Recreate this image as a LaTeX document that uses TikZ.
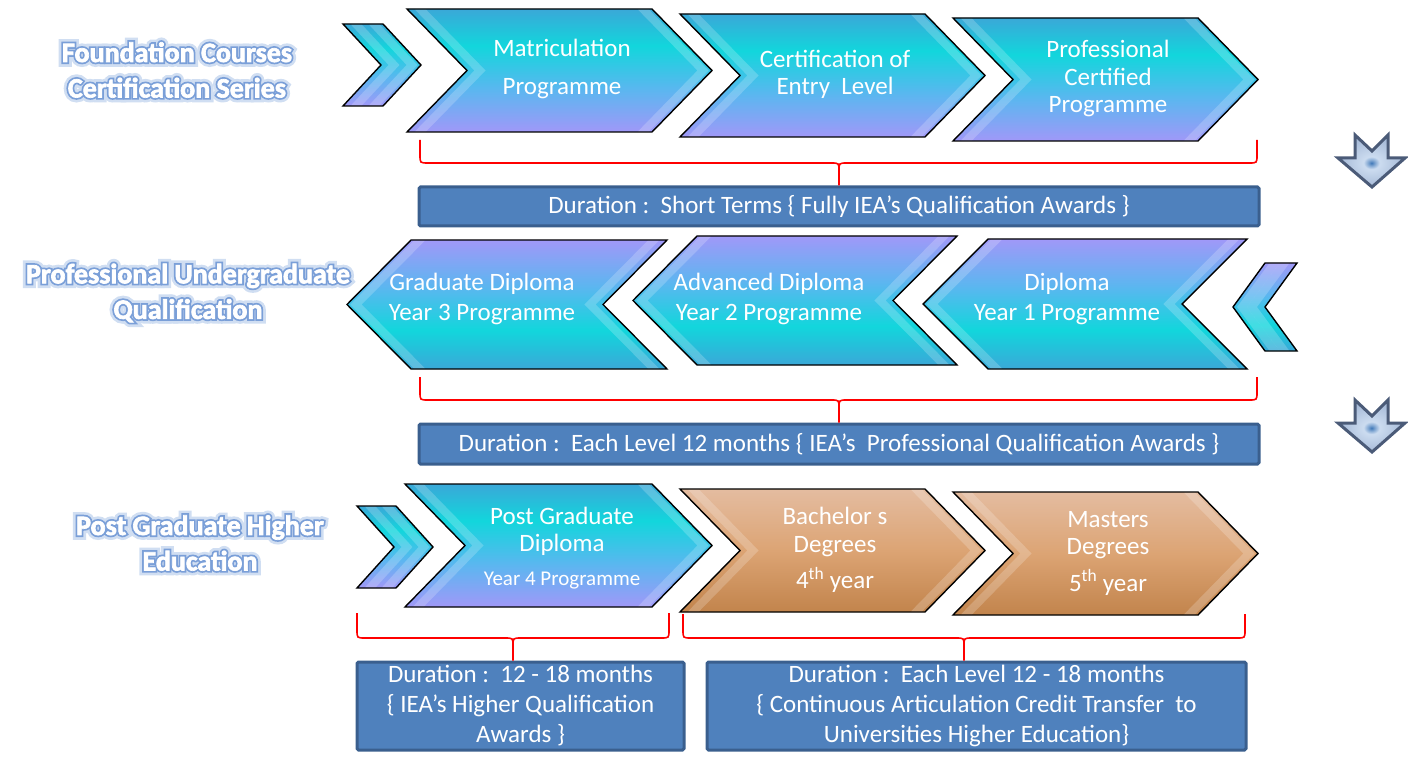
\documentclass[tikz,border=0pt]{standalone}
\usepackage{fontspec}
\setmainfont{Carlito}
\newfontfamily\labelfont{Carlito Bold}[FakeBold=2.5]
\newfontfamily\glowedgefont{Carlito Bold}[FakeBold=15]
\newfontfamily\glowsoftfont{Carlito Bold}[FakeBold=34]
\usetikzlibrary{calc}
\definecolor{boxfill}{HTML}{4F81BD}
\definecolor{boxline}{HTML}{3A5F8E}
\definecolor{glowedge}{HTML}{7A9FD8}
\definecolor{glowsoft}{HTML}{D0DEF2}
\definecolor{arrline}{HTML}{4B5B78}
\definecolor{arrdot}{HTML}{3F78B8}
\definecolor{arrpale}{HTML}{CCDCF0}
\definecolor{arredge}{HTML}{A4B8D6}
\definecolor{bsteel}{HTML}{3AA8D8}
\definecolor{bcyan}{HTML}{12D6DC}
\definecolor{bsky}{HTML}{5CB6F0}
\definecolor{bviolet}{HTML}{A098F8}
\definecolor{otop}{HTML}{E4BCA0}
\definecolor{omid}{HTML}{DCA474}
\definecolor{obot}{HTML}{C2844C}
\pgfdeclareverticalshading{rowone}{100bp}{color(0bp)=(bviolet); color(25bp)=(bviolet); color(42bp)=(bsky); color(60bp)=(bcyan); color(75bp)=(bsteel); color(100bp)=(bsteel)}
\pgfdeclareverticalshading{rowtwo}{100bp}{color(0bp)=(bsteel); color(25bp)=(bsteel); color(40bp)=(bcyan); color(57bp)=(bsky); color(75bp)=(bviolet); color(100bp)=(bviolet)}
\pgfdeclareverticalshading{rowthree}{100bp}{color(0bp)=(obot); color(25bp)=(obot); color(50bp)=(omid); color(75bp)=(otop); color(100bp)=(otop)}
\pgfdeclareradialshading{arrglow}{\pgfpoint{0bp}{-2bp}}{color(0bp)=(arrdot); color(2.5bp)=(arrdot!55!arrpale); color(6bp)=(arrpale); color(25bp)=(arredge); color(50bp)=(arredge)}
\newcommand\glow[1]{\rlap{\glowsoftfont\textcolor{glowsoft}{#1}}\rlap{\glowedgefont\textcolor{glowedge}{#1}}{\labelfont #1}}
% chevron pointing right: left x, top y, width, height, depth, shading
\newcommand\chevR[6]{%
  \begin{scope}
    \clip (#1,#2) -- ++(#3-#5,0) -- ++(#5,#4/2) -- ++(-#5,#4/2) -- ++(#5-#3,0) -- ++(#5,-#4/2) -- cycle;
    \shade[shading=#6] (#1,#2) rectangle ++(#3,#4);
    \draw[bevel] (#1+11,#2-2) -- ++(#5+2,#4/2+2) -- ++(-#5-2,#4/2+2);
    \draw[bevel] (#1+#3-#5-11,#2-2) -- ++(#5+2,#4/2+2) -- ++(-#5-2,#4/2+2);
  \end{scope}
  \draw[chevline] (#1,#2) -- ++(#3-#5,0) -- ++(#5,#4/2) -- ++(-#5,#4/2) -- ++(#5-#3,0) -- ++(#5,-#4/2) -- cycle;}
% chevron pointing left
\newcommand\chevL[6]{%
  \begin{scope}
    \clip (#1+#5,#2) -- ++(#3-#5,0) -- ++(-#5,#4/2) -- ++(#5,#4/2) -- ++(#5-#3,0) -- ++(-#5,-#4/2) -- cycle;
    \shade[shading=#6] (#1,#2) rectangle ++(#3,#4);
    \draw[bevel] (#1+#5+11,#2-2) -- ++(-#5-2,#4/2+2) -- ++(#5+2,#4/2+2);
    \draw[bevel] (#1+#3-11,#2-2) -- ++(-#5-2,#4/2+2) -- ++(#5+2,#4/2+2);
  \end{scope}
  \draw[chevline] (#1+#5,#2) -- ++(#3-#5,0) -- ++(-#5,#4/2) -- ++(#5,#4/2) -- ++(#5-#3,0) -- ++(-#5,-#4/2) -- cycle;}
\tikzset{
  chevline/.style={draw=black, line width=1.4pt, line join=miter},
  bevel/.style={draw=white, opacity=.2, line width=8pt},
  chevtext/.style={text=white, align=center, font=\fontsize{25}{27.5}\selectfont},
  durbox/.style={fill=boxfill, draw=boxline, line width=3pt, rounded corners=1.5pt,
    text=white, align=center, font=\fontsize{25}{30}\selectfont, inner sep=0pt},
  brace/.style={draw=red, line width=1.6pt},
  downarr/.style={draw=arrline, line width=3pt, line join=miter, shading=arrglow},
  rowlabel/.style={align=center, text=white, font=\fontsize{28}{35.5}\selectfont}
}
\begin{document}
\begin{tikzpicture}[x=1pt,y=-1pt]
\useasboundingbox (0,0) rectangle (1408,767);
% labels on the left
\node[rowlabel] (lblFound) at (177,70) {\glow{Foundation Courses}\\\glow{Certification Series}};
\node[rowlabel] (lblUnder) at (188,293) {\glow{Professional Undergraduate}\\\glow{Qualification}};
\node[rowlabel] (lblPost) at (200,543) {\glow{Post Graduate Higher}\\\glow{Education}};
% row one
\chevR{343}{24}{78}{82}{38}{rowone}
\chevR{407}{9}{305}{123}{60}{rowone}
\chevR{680}{14}{305}{123}{60}{rowone}
\chevR{953}{18}{305}{123}{60}{rowone}
\node[chevtext] (matric) at (562,69) {Matriculation\\[10.5pt]Programme};
\node[chevtext] (entry) at (835,74.5) {Certification of\\Entry\ \ Level};
\node[chevtext] (profcert) at (1108,78.5) {Professional\\Certified\\Programme};
% row two
\chevL{347}{240}{320}{129}{64}{rowtwo}
\chevL{633}{236}{324}{129}{64}{rowtwo}
\chevL{923}{239}{324}{130}{65}{rowtwo}
\chevL{1233}{263}{64}{88}{32}{rowtwo}
\node[chevtext, font=\fontsize{25}{30}\selectfont] (graddip) at (482,299) {Graduate Diploma\\Year 3 Programme};
\node[chevtext, font=\fontsize{25}{30}\selectfont] (advdip) at (769,299) {Advanced Diploma\\Year 2 Programme};
\node[chevtext, font=\fontsize{25}{30}\selectfont] (dipone) at (1067,299) {Diploma\\Year 1 Programme};
% row three
\chevR{357}{506}{76}{82}{37}{rowone}
\chevR{405}{484}{307}{123}{60}{rowone}
\chevR{680}{489}{305}{123}{60}{rowthree}
\chevR{953}{492}{305}{123}{60}{rowthree}
\node[chevtext] (pgdip) at (562,548) {Post Graduate\\Diploma\\[6pt]{\fontsize{21}{22}\selectfont Year 4 Programme}};
\node[chevtext] (bach) at (835,550) {Bachelor s\\Degrees\\[9pt]4\textsuperscript{th} year};
\node[chevtext] (mast) at (1108,553) {Masters\\Degrees\\[9pt]5\textsuperscript{th} year};
% duration boxes
\node[durbox, minimum width=840pt, minimum height=39pt] (durShort) at (839,206.5)
  {Duration :\ \ Short Terms \{ Fully IEA’s Qualification Awards \}};
\node[durbox, minimum width=840pt, minimum height=40pt] (durEach) at (839,444)
  {Duration :\ \ Each Level 12 months \{ IEA’s\ \ Professional Qualification Awards \}};
\node[durbox, minimum width=327pt, minimum height=88pt] (durPG) at (520.5,706)
  {Duration :\ \ 12 - 18 months\\\{ IEA’s Higher Qualification\\Awards \}};
\node[durbox, minimum width=539pt, minimum height=88pt] (durBM) at (976.5,706)
  {Duration :\ \ Each Level 12 - 18 months\\\{ Continuous Articulation Credit Transfer\ \ to\\Universities Higher Education\}};
% braces
\draw[brace] (420,140) -- (420,155) .. controls (420,163) .. (428,163) -- (831,163) .. controls (839,163) .. (839,171) -- (durShort.north);
\draw[brace] (1257,140) -- (1257,155) .. controls (1257,163) .. (1249,163) -- (847,163) .. controls (839,163) .. (839,171);
\draw[brace] (420,377) -- (420,392) .. controls (420,400) .. (428,400) -- (831,400) .. controls (839,400) .. (839,408) -- (durEach.north);
\draw[brace] (1257,377) -- (1257,392) .. controls (1257,400) .. (1249,400) -- (847,400) .. controls (839,400) .. (839,408);
\draw[brace] (357,613) -- (357,630) .. controls (357,638) .. (365,638) -- (505,638) .. controls (513,638) .. (513,646) -- ($(durPG.north)+(-7.5,0)$);
\draw[brace] (669,613) -- (669,630) .. controls (669,638) .. (661,638) -- (521,638) .. controls (513,638) .. (513,646);
\draw[brace] (683,614) -- (683,630) .. controls (683,638) .. (691,638) -- (956,638) .. controls (964,638) .. (964,646) -- ($(durBM.north)+(-12.5,0)$);
\draw[brace] (1245,614) -- (1245,630) .. controls (1245,638) .. (1237,638) -- (972,638) .. controls (964,638) .. (964,646);
% down arrows
\shadedraw[downarr] (1355,135) -- (1372,151) -- (1388,135) -- (1388,158) -- (1405,158) -- (1372,187) -- (1338,158) -- (1355,158) -- cycle;
\shadedraw[downarr] (1355,400) -- (1372,416) -- (1388,400) -- (1388,423) -- (1405,423) -- (1372,452) -- (1338,423) -- (1355,423) -- cycle;
\end{tikzpicture}
\end{document}
